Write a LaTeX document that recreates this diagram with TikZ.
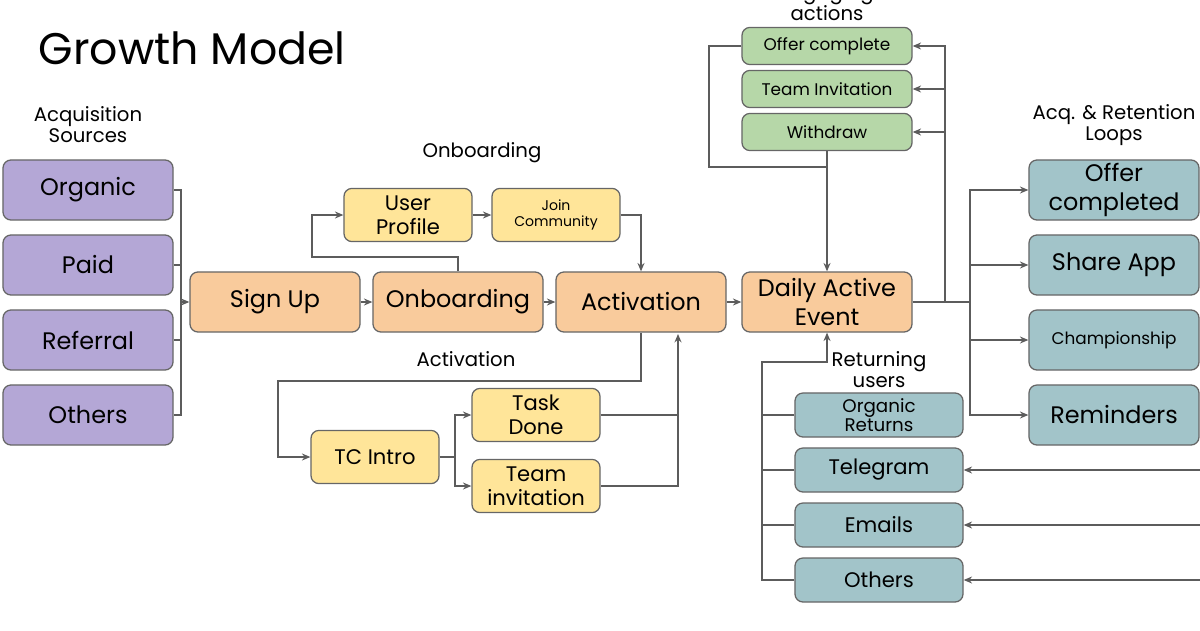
\documentclass[tikz,border=0pt]{standalone}
\usepackage{fontspec}
\setmainfont{Poppins}
\usetikzlibrary{arrows.meta}
\definecolor{purp}{HTML}{B4A7D6}
\definecolor{orng}{HTML}{F9CB9C}
\definecolor{yell}{HTML}{FFE599}
\definecolor{gren}{HTML}{B6D7A8}
\definecolor{teal}{HTML}{A2C4C9}
\definecolor{edge}{HTML}{666666}
\begin{document}
\begin{tikzpicture}[x=0.025cm, y=-0.025cm,
    box/.style={draw=edge, line width=0.9pt, rounded corners=0.2cm, align=center, inner sep=1pt},
    big/.style={box, minimum width=4.25cm, minimum height=1.5cm, font=\fontsize{17}{20}\selectfont},
    small/.style={box, minimum width=3.2cm, minimum height=1.33cm, font=\fontsize{14}{16}\selectfont},
    green/.style={box, fill=gren, minimum width=4.25cm, minimum height=0.93cm, font=\fontsize{12}{14}\selectfont},
    ret/.style={box, fill=teal, minimum width=4.2cm, minimum height=1.1cm, font=\fontsize{15}{17}\selectfont},
    lbl/.style={align=center, font=\fontsize{14}{15}\selectfont},
    link/.style={draw=edge!90!black, line width=0.9pt},
    arr/.style={link, -{Stealth[length=6pt, width=5pt, inset=2pt]}}]
            \useasboundingbox (0,0) rectangle (1200,630);
            % Title and section labels
            \node[anchor=west, font=\fontsize{31.5}{35}\selectfont] (title) at (34,48) {Growth Model};
            \node[lbl] (acqlbl) at (88,125) {Acquisition\\Sources};
            \node[lbl] (onblbl) at (482,153) {Onboarding};
            \node[lbl] (actlbl) at (466,359) {Activation};
            \node[lbl] (englbl) at (827,3) {Engaging\\actions};
            \node[lbl] (looplbl) at (1114,125) {Acq. \& Retention\\Loops};
            \node[lbl] (retlbl) at (879,370) {Returning\\users};

            % Acquisition sources
            \node[big, fill=purp] (organic) at (88,190) {Organic};
            \node[big, fill=purp] (paid) at (88,265) {Paid};
            \node[big, fill=purp] (referral) at (88,340) {Referral};
            \node[big, fill=purp] (others) at (88,415) {Others};

            % Main funnel
            \node[big, fill=orng] (signup) at (275,302) {Sign Up};
            \node[big, fill=orng] (onboard) at (458,302) {Onboarding};
            \node[big, fill=orng] (activ) at (641,302) {Activation};
            \node[big, fill=orng] (dae) at (827,302) {Daily Active\\Event};

            % Onboarding and activation steps
            \node[small, fill=yell, font=\fontsize{15}{17}\selectfont] (profile) at (408,215) {User\\Profile};
            \node[small, fill=yell, font=\fontsize{10}{12}\selectfont] (join) at (556,215) {Join\\Community};
            \node[small, fill=yell, font=\fontsize{15}{17}\selectfont] (tcintro) at (375,457) {TC Intro};
            \node[small, fill=yell, font=\fontsize{15}{17}\selectfont] (task) at (536,415) {Task\\Done};
            \node[small, fill=yell, font=\fontsize{15}{17}\selectfont] (teaminv) at (536,486) {Team\\invitation};

            % Engaging actions
            \node[green] (offer) at (827,46) {Offer complete};
            \node[green] (team) at (827,89) {Team Invitation};
            \node[green] (withdraw) at (827,132) {Withdraw};

            % Loops
            \node[big, fill=teal] (offerdone) at (1114,190) {Offer\\completed};
            \node[big, fill=teal] (share) at (1114,265) {Share App};
            \node[big, fill=teal, font=\fontsize{12}{14}\selectfont] (champ) at (1114,340) {Championship};
            \node[big, fill=teal] (remind) at (1114,415) {Reminders};

            % Returning users
            \node[ret, font=\fontsize{13}{14}\selectfont] (orgret) at (879,415) {Organic\\Returns};
            \node[ret] (telegram) at (879,470) {Telegram};
            \node[ret] (emails) at (879,525) {Emails};
            \node[ret] (retothers) at (879,580) {Others};

            \coordinate (telin) at (1200,470);
            \coordinate (emin) at (1200,525);
            \coordinate (othin) at (1200,580);

            % Connectors
            \draw[link] (organic.east) -| (181,415) -- (others.east);
            \draw[link] (paid.east) -- (181,265);
            \draw[link] (referral.east) -- (181,340);
            \draw[arr] (181,302) -- (signup.west);
            \draw[arr] (signup) -- (onboard);
            \draw[arr] (onboard) -- (activ);
            \draw[arr] (activ) -- (dae);
            \draw[arr] (onboard.north) |- (312,257) |- (profile.west);
            \draw[arr] (profile) -- (join);
            \draw[arr] (join.east) -| (activ.north);
            \draw[arr] (activ.south) |- (278,381) |- (tcintro.west);
            \draw[link] (tcintro.east) -- (455,457);
            \draw[arr] (455,457) |- (task.west);
            \draw[arr] (455,457) |- (teaminv.west);
            \draw[link] (task.east) -| (678,486) -- (teaminv.east);
            \draw[arr] (678,415) -- (678,334);
            \draw[link] (dae.east) -- (970,302);
            \draw[arr] (945,302) |- (offer.east);
            \draw[arr] (945,302) |- (team.east);
            \draw[arr] (945,302) |- (withdraw.east);
            \draw[link] (offer.west) -| (709,167) -- (827,167);
            \draw[arr] (withdraw.south) -- (dae.north);
            \draw[arr] (970,302) |- (offerdone.west);
            \draw[arr] (970,302) |- (share.west);
            \draw[arr] (970,302) |- (champ.west);
            \draw[arr] (970,302) |- (remind.west);
            \draw[arr] (retothers.west) -| (762,362) -| (dae.south);
            \draw[link] (orgret.west) -- (762,415);
            \draw[link] (telegram.west) -- (762,470);
            \draw[link] (emails.west) -- (762,525);
            \draw[arr] (telin) -- (telegram.east);
            \draw[arr] (emin) -- (emails.east);
            \draw[arr] (othin) -- (retothers.east);
        \end{tikzpicture}
\end{document}
